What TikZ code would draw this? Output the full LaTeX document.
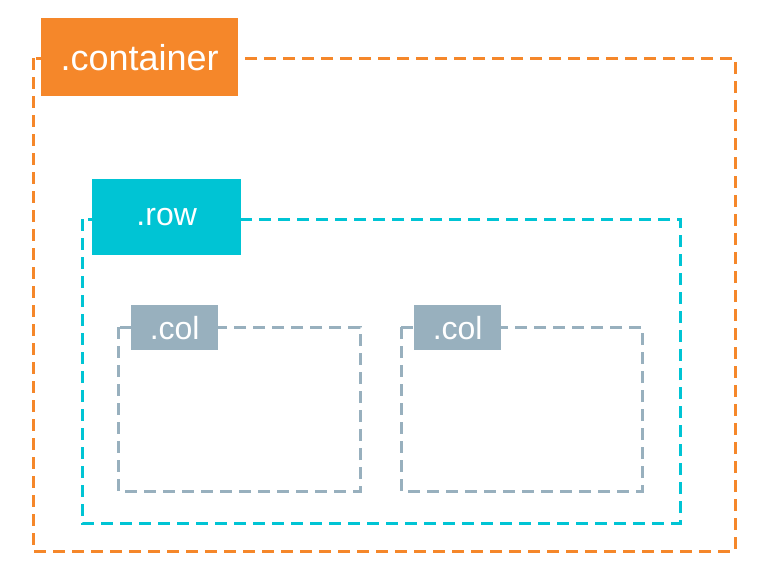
\documentclass[tikz,border=0pt]{standalone}
\usepackage{fontspec}
\setmainfont{Liberation Sans}
\begin{document}
\begin{tikzpicture}[x=1pt,y=-1pt,
  box/.style={line width=3pt,dash pattern=on 12pt off 7pt},
  lab/.style={anchor=north west,inner sep=0pt,text=white,align=center}]
\definecolor{cO}{HTML}{F5872A}
\definecolor{cR}{HTML}{00C4D4}
\definecolor{cC}{HTML}{98B0BE}
\useasboundingbox (0,0) rectangle (768,582);
\draw[box,cO] (33,58) rectangle (735,551);
\draw[box,cR] (82,219) rectangle (680,523);
\draw[box,cC] (118,327) rectangle (360,491);
\draw[box,cC] (401,327) rectangle (642,491);
\node[lab,fill=cO,minimum width=197pt,minimum height=78pt,font=\fontsize{36}{40}\selectfont] (container) at (41,18) {.container};
\node[lab,fill=cR,minimum width=149pt,minimum height=76pt,font=\fontsize{32}{36}\selectfont] (row) at (92,179) {.row};
\node[lab,fill=cC,minimum width=87pt,minimum height=45pt,font=\fontsize{32}{36}\selectfont] (col1) at (131,305) {.col};
\node[lab,fill=cC,minimum width=87pt,minimum height=45pt,font=\fontsize{32}{36}\selectfont] (col2) at (414,305) {.col};
\end{tikzpicture}
\end{document}
